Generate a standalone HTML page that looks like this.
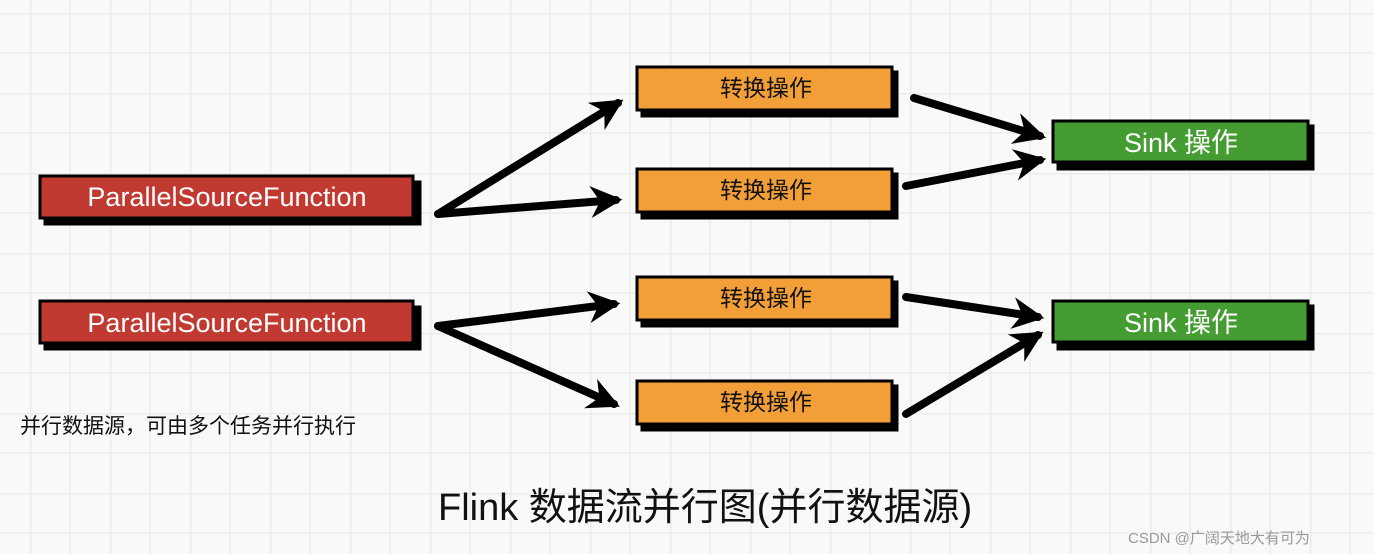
<!DOCTYPE html>
<html><head><meta charset="utf-8"><style>
html,body{margin:0;padding:0;background:#f9f9f9}
svg{display:block}
text{font-family:"Liberation Sans","Noto Sans CJK SC",sans-serif}
</style></head><body>
<svg width="1374" height="554" viewBox="0 0 1374 554" xmlns="http://www.w3.org/2000/svg">
<defs>
<pattern id="g" x="30" y="13" width="80" height="80" patternUnits="userSpaceOnUse">
<path d="M0 0V80M40 0V80" stroke="#efefef" stroke-width="2"/>
<path d="M0 0H80M0 40H80" stroke="#efefef" stroke-width="2"/>
<path d="M0 0V80M0 0H80" stroke="#ebebeb" stroke-width="3"/>
</pattern>
<marker id="a" viewBox="0 0 10 10" refX="8" refY="5" markerWidth="4" markerHeight="4" orient="auto" markerUnits="strokeWidth">
<path d="M0,0 L10,5 L0,10 L3,5 Z" fill="#000"/>
</marker>
</defs>
<rect width="1374" height="554" fill="#f9f9f9"/>
<rect width="1374" height="554" fill="url(#g)"/>

<g stroke="#000" stroke-width="3">
<rect x="45" y="182" width="375" height="42" fill="#000"/>
<rect x="40" y="176" width="373" height="42" fill="#c03a32"/>
<rect x="45" y="307" width="375" height="42" fill="#000"/>
<rect x="40" y="301" width="373" height="42" fill="#c03a32"/>

<rect x="642" y="72" width="255" height="44" fill="#000"/>
<rect x="637" y="67" width="255" height="43" fill="#f29f38"/>
<rect x="642" y="174" width="255" height="44" fill="#000"/>
<rect x="637" y="169" width="255" height="43" fill="#f29f38"/>
<rect x="642" y="282" width="255" height="44" fill="#000"/>
<rect x="637" y="277" width="255" height="43" fill="#f29f38"/>
<rect x="642" y="386" width="255" height="44" fill="#000"/>
<rect x="637" y="381" width="255" height="43" fill="#f29f38"/>

<rect x="1058" y="126" width="255" height="43" fill="#000"/>
<rect x="1053" y="121" width="255" height="41" fill="#449c32"/>
<rect x="1058" y="306" width="255" height="43" fill="#000"/>
<rect x="1053" y="301" width="255" height="41" fill="#449c32"/>
</g>

<g stroke="#000" stroke-width="8" stroke-linecap="round" fill="none" marker-end="url(#a)">
<path d="M438 214 L618 103"/>
<path d="M438 214 L616 200"/>
<path d="M438 326 L614 304"/>
<path d="M438 326 L614 404"/>
<path d="M914 98 L1040 136"/>
<path d="M906 186 L1040 160"/>
<path d="M906 297 L1038 317"/>
<path d="M906 414 L1038 335"/>
</g>

<g fill="#fff" font-size="27" text-anchor="middle">
<text x="227" y="206">ParallelSourceFunction</text>
<text x="227" y="332">ParallelSourceFunction</text>
<text x="1181" y="152">Sink 操作</text>
<text x="1181" y="332">Sink 操作</text>
</g>
<g fill="#111" font-size="23" text-anchor="middle">
<text x="766" y="96">转换操作</text>
<text x="766" y="198">转换操作</text>
<text x="766" y="306">转换操作</text>
<text x="766" y="410">转换操作</text>
</g>
<text x="20" y="433" font-size="21" fill="#111">并行数据源，可由多个任务并行执行</text>
<text x="438" y="520" font-size="38" fill="#111">Flink  数据流并行图(并行数据源)</text>
<text x="1128" y="543" font-size="15" fill="#999">CSDN @广阔天地大有可为</text>
</svg>
</body></html>
